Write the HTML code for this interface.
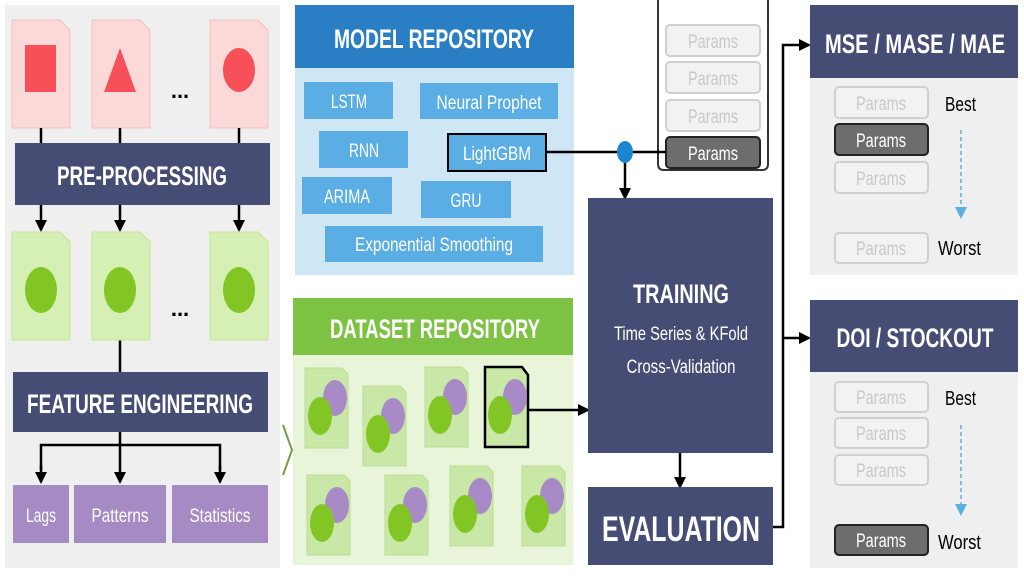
<!DOCTYPE html>
<html><head><meta charset="utf-8"><style>
html,body{margin:0;padding:0;background:#fff;width:1024px;height:576px;overflow:hidden}
svg text{font-family:"Liberation Sans",sans-serif}
</style></head><body>
<svg width="1024" height="576" viewBox="0 0 1024 576" xmlns="http://www.w3.org/2000/svg">
<defs>
<marker id="ah" markerWidth="12" markerHeight="12" refX="10" refY="6" orient="auto" markerUnits="userSpaceOnUse"><path d="M0,0 L12,6 L0,12 z" fill="#000"/></marker>
<marker id="ahb" markerWidth="12" markerHeight="12" refX="10" refY="6" orient="auto" markerUnits="userSpaceOnUse"><path d="M0,0 L12,6 L0,12 z" fill="#5ab0e0"/></marker>
</defs>
<!-- left panel -->
<rect x="5" y="5" width="275" height="563" fill="#efefef"/>
<g fill="#fcd9d9" stroke="#f4c0c0">
<path d="M12,20 H60 L70,30 V128 H12 Z"/>
<path d="M92,20 H140 L150,30 V128 H92 Z"/>
<path d="M210,20 H258 L268,30 V128 H210 Z"/>
</g>
<rect x="25" y="45" width="31" height="47" fill="#f75058"/>
<polygon points="120,48 104,92 136,92" fill="#f75058"/>
<ellipse cx="239" cy="70" rx="16" ry="22" fill="#f75058"/>
<text x="180" y="98" font-size="22" font-weight="bold" text-anchor="middle">...</text>
<g stroke="#000" stroke-width="2.5">
<line x1="41" y1="128" x2="41" y2="143"/><line x1="120" y1="128" x2="120" y2="143"/><line x1="239" y1="128" x2="239" y2="143"/>
<line x1="41" y1="205" x2="41" y2="230" marker-end="url(#ah)"/><line x1="120" y1="205" x2="120" y2="230" marker-end="url(#ah)"/><line x1="239" y1="205" x2="239" y2="230" marker-end="url(#ah)"/>
<line x1="120" y1="340" x2="120" y2="372"/>
<line x1="120" y1="432" x2="120" y2="482" marker-end="url(#ah)"/>
<polyline points="41,470 41,445 220,445 220,470" fill="none"/>
<line x1="41" y1="465" x2="41" y2="482" marker-end="url(#ah)"/>
<line x1="220" y1="465" x2="220" y2="482" marker-end="url(#ah)"/>
</g>
<rect x="15" y="143" width="255" height="62" fill="#454d74"/>
<text x="142" y="185" font-size="27" font-weight="bold" fill="#fff" text-anchor="middle" textLength="170" lengthAdjust="spacingAndGlyphs">PRE-PROCESSING</text>
<g fill="#d6efb4" stroke="#c5e39c">
<path d="M12,232 H60 L70,242 V340 H12 Z"/>
<path d="M92,232 H140 L150,242 V340 H92 Z"/>
<path d="M210,232 H258 L268,242 V340 H210 Z"/>
</g>
<g fill="#82c626"><ellipse cx="41" cy="290" rx="16" ry="23"/><ellipse cx="120" cy="290" rx="16" ry="23"/><ellipse cx="239" cy="290" rx="16" ry="23"/></g>
<text x="180" y="316" font-size="22" font-weight="bold" text-anchor="middle">...</text>
<rect x="13" y="372" width="255" height="60" fill="#454d74"/>
<text x="140" y="413" font-size="27" font-weight="bold" fill="#fff" text-anchor="middle" textLength="226" lengthAdjust="spacingAndGlyphs">FEATURE ENGINEERING</text>
<g fill="#a68ac3"><rect x="13" y="485" width="56" height="58"/><rect x="74" y="485" width="92" height="58"/><rect x="172" y="485" width="96" height="58"/></g>
<g fill="#fff" font-size="19" text-anchor="middle"><text x="41" y="522" textLength="30" lengthAdjust="spacingAndGlyphs">Lags</text><text x="120" y="522" textLength="57" lengthAdjust="spacingAndGlyphs">Patterns</text><text x="220" y="522" textLength="61" lengthAdjust="spacingAndGlyphs">Statistics</text></g>
<polyline points="283,425 292,450 283,475" fill="none" stroke="#7a9a4a" stroke-width="2"/>
<!-- model repo -->
<rect x="295" y="68" width="279" height="207" fill="#cfe6f5"/>
<rect x="295" y="5" width="279" height="63" fill="#2a7fc4"/>
<text x="434" y="48" font-size="27" font-weight="bold" fill="#fff" text-anchor="middle" textLength="200" lengthAdjust="spacingAndGlyphs">MODEL REPOSITORY</text>
<g fill="#5aaee3">
<rect x="304" y="82" width="89" height="37"/><rect x="420" y="83" width="138" height="36"/>
<rect x="319" y="131" width="89" height="37"/><rect x="448" y="134" width="98" height="37" stroke="#000" stroke-width="2"/>
<rect x="302" y="177" width="90" height="37"/><rect x="421" y="181" width="90" height="37"/>
<rect x="325" y="226" width="218" height="36"/>
</g>
<g fill="#fff" font-size="19" text-anchor="middle">
<text x="349" y="108" textLength="36" lengthAdjust="spacingAndGlyphs">LSTM</text><text x="489" y="109" textLength="105" lengthAdjust="spacingAndGlyphs">Neural Prophet</text>
<text x="364" y="157" textLength="30" lengthAdjust="spacingAndGlyphs">RNN</text><text x="497" y="160" textLength="68" lengthAdjust="spacingAndGlyphs">LightGBM</text>
<text x="347" y="203" textLength="46" lengthAdjust="spacingAndGlyphs">ARIMA</text><text x="466" y="207" textLength="31" lengthAdjust="spacingAndGlyphs">GRU</text>
<text x="434" y="251" textLength="158" lengthAdjust="spacingAndGlyphs">Exponential Smoothing</text>
</g>
<!-- dataset repo -->
<rect x="293" y="355" width="280" height="210" fill="#e8f5d8"/>
<rect x="293" y="298" width="280" height="57" fill="#7dc242"/>
<text x="435" y="338" font-size="27" font-weight="bold" fill="#fff" text-anchor="middle" textLength="210" lengthAdjust="spacingAndGlyphs">DATASET REPOSITORY</text>
<g>
<g transform="translate(305,368)"><path d="M0,0 H37 L43,6 V80 H0 Z" fill="#c9e8a8" stroke="#bddc98"/><ellipse cx="30" cy="30" rx="12" ry="18" fill="#a78ac6"/><ellipse cx="15" cy="48" rx="12" ry="19" fill="#82c626"/></g>
<g transform="translate(363,386)"><path d="M0,0 H37 L43,6 V80 H0 Z" fill="#c9e8a8" stroke="#bddc98"/><ellipse cx="30" cy="30" rx="12" ry="18" fill="#a78ac6"/><ellipse cx="15" cy="48" rx="12" ry="19" fill="#82c626"/></g>
<g transform="translate(425,367)"><path d="M0,0 H37 L43,6 V80 H0 Z" fill="#c9e8a8" stroke="#bddc98"/><ellipse cx="30" cy="30" rx="12" ry="18" fill="#a78ac6"/><ellipse cx="15" cy="48" rx="12" ry="19" fill="#82c626"/></g>
<g transform="translate(485,367)"><path d="M0,0 H37 L43,8 V80 H0 Z" fill="#c9e8a8" stroke="#000" stroke-width="2.5"/><ellipse cx="30" cy="30" rx="12" ry="18" fill="#a78ac6"/><ellipse cx="15" cy="48" rx="12" ry="19" fill="#82c626"/></g>
<g transform="translate(307,475)"><path d="M0,0 H37 L43,6 V80 H0 Z" fill="#c9e8a8" stroke="#bddc98"/><ellipse cx="30" cy="30" rx="12" ry="18" fill="#a78ac6"/><ellipse cx="15" cy="48" rx="12" ry="19" fill="#82c626"/></g>
<g transform="translate(385,475)"><path d="M0,0 H37 L43,6 V80 H0 Z" fill="#c9e8a8" stroke="#bddc98"/><ellipse cx="30" cy="30" rx="12" ry="18" fill="#a78ac6"/><ellipse cx="15" cy="48" rx="12" ry="19" fill="#82c626"/></g>
<g transform="translate(450,466)"><path d="M0,0 H37 L43,6 V80 H0 Z" fill="#c9e8a8" stroke="#bddc98"/><ellipse cx="30" cy="30" rx="12" ry="18" fill="#a78ac6"/><ellipse cx="15" cy="48" rx="12" ry="19" fill="#82c626"/></g>
<g transform="translate(522,466)"><path d="M0,0 H37 L43,6 V80 H0 Z" fill="#c9e8a8" stroke="#bddc98"/><ellipse cx="30" cy="30" rx="12" ry="18" fill="#a78ac6"/><ellipse cx="15" cy="48" rx="12" ry="19" fill="#82c626"/></g>
</g>
<line x1="528" y1="410" x2="588" y2="410" stroke="#000" stroke-width="2.5" marker-end="url(#ah)"/>
<!-- params stack -->
<path d="M658,0 V164 Q658,170 664,170 H762 Q768,170 768,164 V0" fill="#fff" stroke="#333" stroke-width="2"/>
<g fill="#f2f2f2" stroke="#d0d0d0" stroke-width="2">
<rect x="666" y="25" width="94" height="31" rx="4"/><rect x="666" y="62" width="94" height="31" rx="4"/><rect x="666" y="100" width="94" height="31" rx="4"/>
</g>
<rect x="666" y="137" width="94" height="31" rx="4" fill="#6d6d6d" stroke="#222" stroke-width="2"/>
<g font-size="19" text-anchor="middle"><text x="713" y="48" fill="#c8c8c8" textLength="50" lengthAdjust="spacingAndGlyphs">Params</text><text x="713" y="85" fill="#c8c8c8" textLength="50" lengthAdjust="spacingAndGlyphs">Params</text><text x="713" y="123" fill="#c8c8c8" textLength="50" lengthAdjust="spacingAndGlyphs">Params</text><text x="713" y="160" fill="#fff" textLength="50" lengthAdjust="spacingAndGlyphs">Params</text></g>
<line x1="546" y1="152" x2="666" y2="152" stroke="#000" stroke-width="2.5"/>
<line x1="625" y1="152" x2="625" y2="198" stroke="#000" stroke-width="2.5" marker-end="url(#ah)"/>
<ellipse cx="625" cy="152" rx="8" ry="11" fill="#1a86d0"/>
<!-- training -->
<rect x="588" y="198" width="185" height="255" fill="#454d74"/>
<text x="681" y="303" font-size="27" font-weight="bold" fill="#fff" text-anchor="middle" textLength="96" lengthAdjust="spacingAndGlyphs">TRAINING</text>
<text x="681" y="340" font-size="19" fill="#fff" text-anchor="middle" textLength="134" lengthAdjust="spacingAndGlyphs">Time Series &amp; KFold</text>
<text x="681" y="373" font-size="19" fill="#fff" text-anchor="middle" textLength="109" lengthAdjust="spacingAndGlyphs">Cross-Validation</text>
<line x1="680" y1="453" x2="680" y2="487" stroke="#000" stroke-width="2.5" marker-end="url(#ah)"/>
<rect x="588" y="487" width="185" height="78" fill="#454d74"/>
<text x="681" y="541" font-size="35" font-weight="bold" fill="#fff" text-anchor="middle" textLength="158" lengthAdjust="spacingAndGlyphs">EVALUATION</text>
<polyline points="773,527 783,527 783,45 809,45" fill="none" stroke="#000" stroke-width="2.5" marker-end="url(#ah)"/>
<line x1="783" y1="338" x2="809" y2="338" stroke="#000" stroke-width="2.5" marker-end="url(#ah)"/>
<!-- MSE panel -->
<rect x="810" y="78" width="208" height="197" fill="#efefef"/>
<rect x="810" y="5" width="208" height="73" fill="#454d74"/>
<text x="915" y="53" font-size="27" font-weight="bold" fill="#fff" text-anchor="middle" textLength="180" lengthAdjust="spacingAndGlyphs">MSE / MASE / MAE</text>
<g fill="#f2f2f2" stroke="#d0d0d0" stroke-width="2">
<rect x="835" y="87" width="93" height="31" rx="4"/><rect x="835" y="162" width="93" height="31" rx="4"/><rect x="835" y="233" width="93" height="30" rx="4"/>
</g>
<rect x="835" y="124" width="93" height="31" rx="4" fill="#6d6d6d" stroke="#222" stroke-width="2"/>
<g font-size="19" text-anchor="middle"><text x="881" y="110" fill="#c8c8c8" textLength="50" lengthAdjust="spacingAndGlyphs">Params</text><text x="881" y="147" fill="#fff" textLength="50" lengthAdjust="spacingAndGlyphs">Params</text><text x="881" y="185" fill="#c8c8c8" textLength="50" lengthAdjust="spacingAndGlyphs">Params</text><text x="881" y="255" fill="#c8c8c8" textLength="50" lengthAdjust="spacingAndGlyphs">Params</text></g>
<text x="945" y="111" font-size="20" textLength="31" lengthAdjust="spacingAndGlyphs">Best</text><text x="938" y="255" font-size="20" textLength="43" lengthAdjust="spacingAndGlyphs">Worst</text>
<line x1="961" y1="130" x2="961" y2="217" stroke="#5ab0e0" stroke-width="1.5" stroke-dasharray="4,3" marker-end="url(#ahb)"/>
<!-- DOI panel -->
<rect x="810" y="372" width="208" height="196" fill="#efefef"/>
<rect x="810" y="300" width="208" height="72" fill="#454d74"/>
<text x="915" y="347" font-size="27" font-weight="bold" fill="#fff" text-anchor="middle" textLength="157" lengthAdjust="spacingAndGlyphs">DOI / STOCKOUT</text>
<g fill="#f2f2f2" stroke="#d0d0d0" stroke-width="2">
<rect x="835" y="382" width="93" height="30" rx="4"/><rect x="835" y="418" width="93" height="30" rx="4"/><rect x="835" y="455" width="93" height="30" rx="4"/>
</g>
<rect x="835" y="525" width="93" height="30" rx="4" fill="#6d6d6d" stroke="#222" stroke-width="2"/>
<g font-size="19" text-anchor="middle"><text x="881" y="404" fill="#c8c8c8" textLength="50" lengthAdjust="spacingAndGlyphs">Params</text><text x="881" y="440" fill="#c8c8c8" textLength="50" lengthAdjust="spacingAndGlyphs">Params</text><text x="881" y="477" fill="#c8c8c8" textLength="50" lengthAdjust="spacingAndGlyphs">Params</text><text x="881" y="547" fill="#fff" textLength="50" lengthAdjust="spacingAndGlyphs">Params</text></g>
<text x="945" y="405" font-size="20" textLength="31" lengthAdjust="spacingAndGlyphs">Best</text><text x="938" y="549" font-size="20" textLength="43" lengthAdjust="spacingAndGlyphs">Worst</text>
<line x1="961" y1="425" x2="961" y2="514" stroke="#5ab0e0" stroke-width="1.5" stroke-dasharray="4,3" marker-end="url(#ahb)"/>
</svg>
</body></html>
